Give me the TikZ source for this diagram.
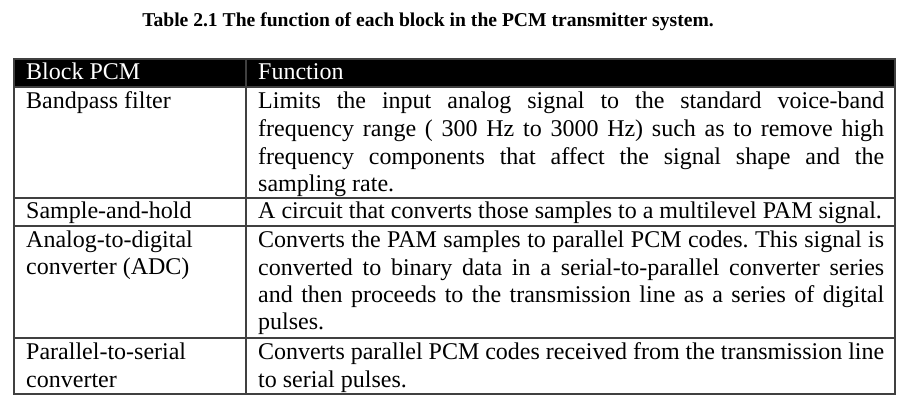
\documentclass[tikz,border=0pt]{standalone}
\usepackage{fontspec}
\setmainfont{Liberation Serif}
\frenchspacing
\begin{document}
\begin{tikzpicture}[x=1pt,y=-1pt,
  cell/.style={anchor=base west,inner sep=0pt,font=\fontsize{24}{28}\selectfont},
  hcell/.style={cell,text=white},
  rule/.style={draw=black!75,line width=1.3pt}]
\useasboundingbox (0,0) rectangle (900,404);
\node[anchor=base,inner sep=0pt,font=\bfseries\fontsize{19.6}{23}\selectfont] (title) at (428,27) {Table 2.1 The function of each block in the PCM transmitter system.};
\fill[black] (14,59) rectangle (895,87);
\draw[rule] (14,59) rectangle (895,394);
\draw[rule] (246,59) -- (246,394);
\draw[rule] (14,87) -- (895,87);
\draw[rule] (14,198) -- (895,198);
\draw[rule] (14,226) -- (895,226);
\draw[rule] (14,338) -- (895,338);
\newcommand{\jl}[1]{\makebox[626pt][s]{#1}}
\node[hcell] (h1) at (26,80) {Block PCM};
\node[hcell] (h2) at (258,80) {Function};
\node[cell] (a1) at (26,109) {Bandpass filter};
\node[cell] (b1) at (258,109) {\jl{Limits the input analog signal to the standard voice-band}};
\node[cell] (b2) at (258,136) {\jl{frequency range ( 300 Hz to 3000 Hz) such as to remove high}};
\node[cell] (b3) at (258,164) {\jl{frequency components that affect the signal shape and the}};
\node[cell] (b4) at (258,191) {sampling rate.};
\node[cell] (a2) at (26,218) {Sample-and-hold};
\node[cell] (c1) at (258,218) {A circuit that converts those samples to a multilevel PAM signal.};
\node[cell] (a3) at (26,247) {Analog-to-digital};
\node[cell] (a4) at (26,274) {converter (ADC)};
\node[cell] (d1) at (258,247) {\jl{Converts the PAM samples to parallel PCM codes. This signal is}};
\node[cell] (d2) at (258,275) {\jl{converted to binary data in a serial-to-parallel converter series}};
\node[cell] (d3) at (258,302) {\jl{and then proceeds to the transmission line as a series of digital}};
\node[cell] (d4) at (258,329) {pulses.};
\node[cell] (a5) at (26,359) {Parallel-to-serial};
\node[cell] (a6) at (26,387) {converter};
\node[cell] (e1) at (258,359) {\jl{Converts parallel PCM codes received from the transmission line}};
\node[cell] (e2) at (258,387) {to serial pulses.};
\end{tikzpicture}
\end{document}
